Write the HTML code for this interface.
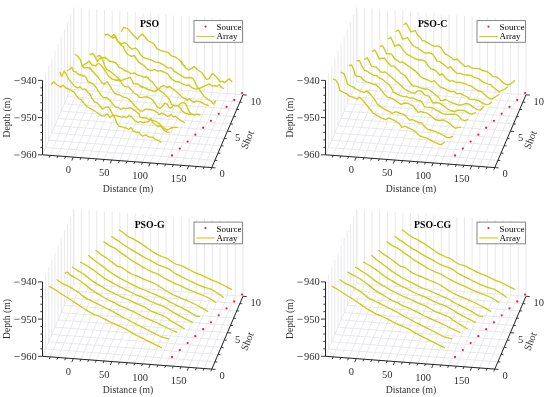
<!DOCTYPE html>
<html><head><meta charset="utf-8"><style>
html,body{margin:0;padding:0;background:#fff;width:550px;height:397px;overflow:hidden}
svg{display:block;will-change:transform}
text{font-family:"Liberation Serif",serif;fill:#303030}
.tl text{font-size:10.5px}
.al{font-size:9.7px}
.sh{font-size:10.3px}
.ti{font-size:9.8px;font-weight:bold;fill:#000}
.lg{font-size:9px;fill:#000}
</style></head><body>
<svg width="550" height="397" viewBox="0 0 550 397">
<rect width="550" height="397" fill="#fff"/>
<path d="M42.5 154.8L73.7 82L73.7 7.6M50.2 155.38L81.4 82.58L81.4 8.18M57.89 155.96L89.09 83.16L89.09 8.76M65.58 156.55L96.78 83.75L96.78 9.35M73.28 157.13L104.48 84.33L104.48 9.93M80.97 157.71L112.17 84.91L112.17 10.51M88.67 158.29L119.87 85.49L119.87 11.09M96.36 158.87L127.56 86.07L127.56 11.67M104.06 159.46L135.26 86.66L135.26 12.26M111.75 160.04L142.95 87.24L142.95 12.84M119.45 160.62L150.65 87.82L150.65 13.42M127.14 161.2L158.34 88.4L158.34 14M134.84 161.78L166.04 88.98L166.04 14.58M142.53 162.37L173.74 89.57L173.74 15.17M150.23 162.95L181.43 90.15L181.43 15.75M157.93 163.53L189.12 90.73L189.12 16.33M165.62 164.11L196.82 91.31L196.82 16.91M173.31 164.69L204.51 91.89L204.51 17.49M181.01 165.28L212.21 92.48L212.21 18.08M188.7 165.86L219.9 93.06L219.9 18.66M196.4 166.44L227.6 93.64L227.6 19.24M204.09 167.02L235.3 94.22L235.3 19.82M211.79 167.6L242.99 94.8L242.99 20.4M211.79 167.6L42.5 154.8L42.5 80.4M214.91 160.32L45.62 147.52L45.62 73.12M218.03 153.04L48.74 140.24L48.74 65.84M221.15 145.76L51.86 132.96L51.86 58.56M224.27 138.48L54.98 125.68L54.98 51.28M227.39 131.2L58.1 118.4L58.1 44M230.51 123.92L61.22 111.12L61.22 36.72M233.63 116.64L64.34 103.84L64.34 29.44M236.75 109.36L67.46 96.56L67.46 22.16M239.87 102.08L70.58 89.28L70.58 14.88M242.99 94.8L73.7 82L73.7 7.6" stroke="#e3e3e9" stroke-width="0.8" fill="none"/>
<path d="M42.5 80.4L42.5 154.8L211.79 167.6L242.99 94.8" stroke="#262626" stroke-width="1.0" fill="none"/>
<path d="M50.2 155.38l-0.95 2.21M57.89 155.96l-0.95 2.21M65.58 156.55l-0.95 2.21M73.28 157.13l-1.5 3.49M80.97 157.71l-0.95 2.21M88.67 158.29l-0.95 2.21M96.36 158.87l-0.95 2.21M104.06 159.46l-0.95 2.21M111.75 160.04l-1.5 3.49M119.45 160.62l-0.95 2.21M127.14 161.2l-0.95 2.21M134.84 161.78l-0.95 2.21M142.53 162.37l-0.95 2.21M150.23 162.95l-1.5 3.49M157.93 163.53l-0.95 2.21M165.62 164.11l-0.95 2.21M173.31 164.69l-0.95 2.21M181.01 165.28l-0.95 2.21M188.7 165.86l-1.5 3.49M196.4 166.44l-0.95 2.21M204.09 167.02l-0.95 2.21M211.79 167.6l-0.95 2.21M42.5 154.8l-4.5 0M42.5 147.36l-2.2 0M42.5 139.92l-2.2 0M42.5 132.48l-2.2 0M42.5 125.04l-2.2 0M42.5 117.6l-4.5 0M42.5 110.16l-2.2 0M42.5 102.72l-2.2 0M42.5 95.28l-2.2 0M42.5 87.84l-2.2 0M42.5 80.4l-4.5 0M211.79 167.6l3.79 0.29M214.91 160.32l2.39 0.18M218.03 153.04l2.39 0.18M221.15 145.76l2.39 0.18M224.27 138.48l2.39 0.18M227.39 131.2l3.79 0.29M230.51 123.92l2.39 0.18M233.63 116.64l2.39 0.18M236.75 109.36l2.39 0.18M239.87 102.08l2.39 0.18M242.99 94.8l3.79 0.29" stroke="#262626" stroke-width="0.9" fill="none"/>
<g class="tl"><text x="70.98" y="173.33" text-anchor="end">0</text><text x="109.45" y="176.24" text-anchor="end">50</text><text x="147.93" y="179.15" text-anchor="end">100</text><text x="186.4" y="182.06" text-anchor="end">150</text><text x="36.8" y="83.8" text-anchor="end">940</text><text x="36.8" y="121" text-anchor="end">950</text><text x="36.8" y="158.2" text-anchor="end">960</text><text x="219.39" y="177.4">0</text><text x="234.99" y="141">5</text><text x="250.59" y="104.6">10</text></g>
<path d="M14.3 80.6h5.3M14.3 117.8h5.3M14.3 155h5.3" stroke="#3a3a3a" stroke-width="0.7" fill="none"/>
<text class="al" x="128" y="191.6" text-anchor="middle">Distance (m)</text>
<text class="al" transform="translate(9.8 117.5) rotate(-90)" x="0" y="0" text-anchor="middle">Depth (m)</text>
<text class="al sh" transform="translate(250.5 141) rotate(-68)" x="0" y="0" text-anchor="middle">Shot</text>
<path d="M121.5 31.2L123.8 27.3L127.2 28.4L129.1 30L131.4 33.2L134.1 35.9L137.3 39.1L140 35.9L142.3 34.1L145 36.8L147.7 40.5L151.4 42.3L154.1 44.1L156.8 48.6L160.5 50.5L164.1 51.4L168.6 52.7L171.4 55.9L175 56.8L179.5 60L182.3 64.1L185.9 68.2L188.6 70L191.4 68.6L194.1 66.5L198.2 70.2L201.8 72.5L204.5 76.5L206.4 79.3L208.6 78.8L212.7 73.4L216.4 77L219.1 80.2L220.5 82L222.3 81.1L224.5 82.7L227.3 80.2L229.1 78.8L231.8 81.5M105 35L107.7 34.1L111.4 37.3L113.6 34.5L115.5 35.9L116.8 39.1L118.6 41.8L121.4 44.1L124.5 42.7L126.8 43.6L129.5 47.3L132.3 49.1L135.9 48.2L138.2 50.5L140.5 54.5L143.2 57.3L146.8 58.6L151.4 60L155 61.8L159.5 62.7L164.1 65.2L167.7 67.9L171.4 67.9L174.1 71.1L177.7 73.4L181.4 75.6L185 77.9L190 77.5L192.7 78.4L194.5 81.1L197.3 87L200 90.2L201.8 93.2L204.5 96.8L208.2 99.5L211.8 101.8L213.6 104.1L215.5 100.9M112.7 38.2L115 36.8L116.8 40L119.5 43.2L120.9 45L123.2 46.8L125 50.9L127.7 54.5L131.4 56.4L134.1 55.5L136.8 59.5L139.5 62.7L141.4 63.8L144.1 65.6L146.8 68.8L149.5 70.2L152.3 70.6L154.5 69.3L157.3 71.1L160.5 70.6L164.1 72L167.7 73.8L170 77L172.3 79.7L175.9 81.5L179.5 82L182.3 83.8L186.4 85.5L189.1 85L191.8 87.7L195.5 89.1L199.1 88.6L204.5 86.1L209.1 83.8L211.8 86.1L214.5 85.6L216.8 86.5L219.1 84.7L221.4 87.5L223.6 88.4M90 54.5L92.7 53.5L95 56.4L97.3 61.4L99.1 59.1L101.8 57.7L104.5 57.7L107.3 59.1L109.1 61.4L111.8 61.8L115.5 62.7L117.3 64.5L119.1 67.7L121.8 68.2L124.5 70.5L128.2 71.8L130.9 73.6L133.6 73.2L135 73.4L137.7 75.2L141.4 76.1L144.1 77.5L146.8 76.5L149.5 79.7L152.3 82L155 85.6L157.7 88.8L160.5 91.1L163.2 92.9L165.9 95.6L167.7 97L170 100.9L171.8 104.5L174.5 105.9L178.2 105.9L180.9 103.2L183.6 102.3L185.9 104.1L187.7 108.6L189.5 112.3L191.8 114.1L194.5 115L197.3 114.1L200 115M105 57.3L107.7 59.5L110.5 61.4L113.2 61.8L115.9 62.7L117.3 65M97.3 56.4L99.5 55.3L101.4 57.3L103.2 60.9L104.5 65L106.4 69.1L109.1 70.9L111.8 72.7L114.5 75L117.3 77.3L120 80L121.8 83.6L124.5 86.4L128.2 86.8L130.9 89.1L133.6 92.7L137.3 95L139.1 97.1L142.7 97.5L146.4 96.6L150 98L152.7 100.3L155.5 103.9L157.3 107.1L160 108.5L162.7 106.2L165 103L167.3 104.4L169.1 107.5L170.9 108L173.6 105.3L177.3 105.7L180 107.5L182.7 111.4L185.5 113.2L189.1 114.5L191.8 114.5M117.3 80L120.9 80.9L124.5 79.1L128.2 78.2L130 77.3L131.8 80L133.6 83.6L137.3 84.1L140 85.5L145.5 88L148.2 89.4L151.8 90.3L155.5 91.6L158.2 89.4L159.5 90M135 83.8L137.7 83.8L141.4 87L144.1 87.5L147.7 89.3L151.4 90.6L155 91.5L158.6 88.8L161.4 86.5L164.1 85.6L166.8 87.5L169.5 86.5L173.2 89.3L176.8 92L180 95L182.7 97.7L185.9 99.1L187.3 100.5L189.5 98.6L191.8 100.9L194.1 102.3L196.4 100.9L199.1 101.4L201.8 102.7L204.5 104.1L208.2 105.5M181.4 62L183.2 64.7L185 66.1M51.4 84.4L53.6 81.8L56.8 84.8L60.5 87.1L63.2 85.3L65.9 88L68.6 88.9L71.4 90.7L74.1 92.1L76.4 95.7L78.6 98.5L81.4 99.8L84.1 103.5L86.8 106.2L89.5 108L93.6 110.5L95 111.2L97.7 113L101.4 115.7L104.1 116.2L107.3 113.9L110 117.5L112.3 115.7L114.5 115.3L117.7 116.2L121.4 117.1L124.1 116.6L126.8 117.5L129.5 115.3L132.3 118L135 120.7L137.7 122.5L140 121.6L143.6 122.5L148.2 121.6L150.9 119.8L153.6 120.7L156.4 121.6L159.1 123.5L161.8 126.2L164.5 128.5L167.3 130.3L170 128.5L172.7 127.5L177.3 127.3M60 72.3L61.8 76.4L64.1 70.9L66.4 74.5L68.6 79.1L72.3 83.6L75 86.6L77.7 88L80 86.6L82.3 89.4L85 88.9L87.7 92.1L90.5 94.8L91.8 98.2L94.5 101.8L97.3 103.2L100 105.9L102.7 109.1L105.5 107.3L108.2 106.8L110 109.1L111.8 112.7L113.2 115.3L115 118L116.8 123.5L119.5 126.6L123.2 127.1L125.9 128L128.6 129.4L130.9 127.5L133.2 130.7L135.9 132.5L138.6 132.1L140.5 134.4L142.7 136.2L145.5 134.8L149.1 137.1L152.7 137.1L155.5 139.4L158.2 140.3L160.9 142.1M67.3 70.5L69.5 69.5L71.8 67.3L73.6 71.4L75.9 71.8L78.6 74.5L82.3 75.5L85 76.4L86.4 78L87.7 81.6L91.4 83L93.6 84.5L96.4 87.7L98.2 90.9L100.9 95L103.6 97.7L107.3 97.7L110 100.5L112.7 104.1L115.5 106.8L118.2 107.3L120.9 109.5L123.6 108.2L126.4 108.6L130 107.7L132.7 109.1L135.5 110.9L139.1 114.1L140 117.1L142.7 118L145.5 117.5L149.1 119.8L150.9 118.5L152.7 122.5L155.5 124.8L158.2 126.6L160 125.7L161.8 127.5L164.5 130.7L167.3 132.1L169.1 132.5M75.5 54.5L78.6 57.3L80.5 60L82.3 66.4L85 68.2L87.7 67.3L90.5 69.1L93.2 71.8L95.5 74.5L98.2 77.3L100 80L101.8 82.7L104.5 84.1L107.3 81.8L109.1 84.5L111.8 89.1L114.5 93.2L117.3 94.5L120 95L122.7 96.8L126.4 97.7L129.1 99.5L131.8 102.3L134.5 105.5L137.3 108.2L140 110.9L142.7 111.2L145.5 108.9L150 109.4L154.5 110.7L157.3 112.5L159.1 114.8L161.8 113L164.5 114.4L168.2 116.6L170.9 114.4L173.6 117.1L175.5 116.2L178.2 118.5L180.9 120.7L184.5 122.5M82.3 66.4L84.1 64.5L86.8 63.2L89.1 60.9L90.5 63.2L92.3 65L95.5 65.9L98.2 63.2L100.9 65L103.6 68.2L105.5 71.4L108.2 75.5L111.8 79.1L115.5 80L119.1 80.9M90 67.7L92.7 71.8M90 61.8L91.8 65" stroke="#d0cb14" stroke-width="1.35" fill="none" stroke-linejoin="round" stroke-linecap="round"/>
<g fill="#e8205a"><circle cx="172.05" cy="155.5" r="1.15"/><circle cx="179.83" cy="148.56" r="1.15"/><circle cx="187.61" cy="141.62" r="1.15"/><circle cx="195.39" cy="134.68" r="1.15"/><circle cx="203.17" cy="127.74" r="1.15"/><circle cx="210.95" cy="120.8" r="1.15"/><circle cx="218.73" cy="113.86" r="1.15"/><circle cx="226.51" cy="106.92" r="1.15"/><circle cx="234.29" cy="99.98" r="1.15"/><circle cx="242.07" cy="93.04" r="1.15"/></g>
<text class="ti" x="149.6" y="26.8" text-anchor="middle">PSO</text>
<rect x="194" y="20.6" width="48.4" height="21.7" fill="#fff" stroke="#7a7a7a" stroke-width="0.9"/>
<circle cx="205.5" cy="26.6" r="1.15" fill="#e8205a"/>
<path d="M196.3 36.5h18.5" stroke="#d0cb14" stroke-width="1.1"/>
<text class="lg" x="216.6" y="30.4">Source</text>
<text class="lg" x="216.6" y="39.2">Array</text>
<path d="M325.5 154.8L356.7 82L356.7 7.6M333.19 155.38L364.39 82.58L364.39 8.18M340.89 155.96L372.09 83.16L372.09 8.76M348.58 156.55L379.78 83.75L379.78 9.35M356.28 157.13L387.48 84.33L387.48 9.93M363.98 157.71L395.18 84.91L395.18 10.51M371.67 158.29L402.87 85.49L402.87 11.09M379.37 158.87L410.56 86.07L410.56 11.67M387.06 159.46L418.26 86.66L418.26 12.26M394.75 160.04L425.95 87.24L425.95 12.84M402.45 160.62L433.65 87.82L433.65 13.42M410.14 161.2L441.35 88.4L441.35 14M417.84 161.78L449.04 88.98L449.04 14.58M425.53 162.37L456.74 89.57L456.74 15.17M433.23 162.95L464.43 90.15L464.43 15.75M440.93 163.53L472.12 90.73L472.12 16.33M448.62 164.11L479.82 91.31L479.82 16.91M456.31 164.69L487.51 91.89L487.51 17.49M464.01 165.28L495.21 92.48L495.21 18.08M471.7 165.86L502.9 93.06L502.9 18.66M479.4 166.44L510.6 93.64L510.6 19.24M487.1 167.02L518.3 94.22L518.3 19.82M494.79 167.6L525.99 94.8L525.99 20.4M494.79 167.6L325.5 154.8L325.5 80.4M497.91 160.32L328.62 147.52L328.62 73.12M501.03 153.04L331.74 140.24L331.74 65.84M504.15 145.76L334.86 132.96L334.86 58.56M507.27 138.48L337.98 125.68L337.98 51.28M510.39 131.2L341.1 118.4L341.1 44M513.51 123.92L344.22 111.12L344.22 36.72M516.63 116.64L347.34 103.84L347.34 29.44M519.75 109.36L350.46 96.56L350.46 22.16M522.87 102.08L353.58 89.28L353.58 14.88M525.99 94.8L356.7 82L356.7 7.6" stroke="#e3e3e9" stroke-width="0.8" fill="none"/>
<path d="M325.5 80.4L325.5 154.8L494.79 167.6L525.99 94.8" stroke="#262626" stroke-width="1.0" fill="none"/>
<path d="M333.19 155.38l-0.95 2.21M340.89 155.96l-0.95 2.21M348.58 156.55l-0.95 2.21M356.28 157.13l-1.5 3.49M363.98 157.71l-0.95 2.21M371.67 158.29l-0.95 2.21M379.37 158.87l-0.95 2.21M387.06 159.46l-0.95 2.21M394.75 160.04l-1.5 3.49M402.45 160.62l-0.95 2.21M410.14 161.2l-0.95 2.21M417.84 161.78l-0.95 2.21M425.53 162.37l-0.95 2.21M433.23 162.95l-1.5 3.49M440.93 163.53l-0.95 2.21M448.62 164.11l-0.95 2.21M456.31 164.69l-0.95 2.21M464.01 165.28l-0.95 2.21M471.7 165.86l-1.5 3.49M479.4 166.44l-0.95 2.21M487.1 167.02l-0.95 2.21M494.79 167.6l-0.95 2.21M325.5 154.8l-4.5 0M325.5 147.36l-2.2 0M325.5 139.92l-2.2 0M325.5 132.48l-2.2 0M325.5 125.04l-2.2 0M325.5 117.6l-4.5 0M325.5 110.16l-2.2 0M325.5 102.72l-2.2 0M325.5 95.28l-2.2 0M325.5 87.84l-2.2 0M325.5 80.4l-4.5 0M494.79 167.6l3.79 0.29M497.91 160.32l2.39 0.18M501.03 153.04l2.39 0.18M504.15 145.76l2.39 0.18M507.27 138.48l2.39 0.18M510.39 131.2l3.79 0.29M513.51 123.92l2.39 0.18M516.63 116.64l2.39 0.18M519.75 109.36l2.39 0.18M522.87 102.08l2.39 0.18M525.99 94.8l3.79 0.29" stroke="#262626" stroke-width="0.9" fill="none"/>
<g class="tl"><text x="353.98" y="173.33" text-anchor="end">0</text><text x="392.45" y="176.24" text-anchor="end">50</text><text x="430.93" y="179.15" text-anchor="end">100</text><text x="469.4" y="182.06" text-anchor="end">150</text><text x="319.8" y="83.8" text-anchor="end">940</text><text x="319.8" y="121" text-anchor="end">950</text><text x="319.8" y="158.2" text-anchor="end">960</text><text x="502.39" y="177.4">0</text><text x="517.99" y="141">5</text><text x="533.59" y="104.6">10</text></g>
<path d="M297.3 80.6h5.3M297.3 117.8h5.3M297.3 155h5.3" stroke="#3a3a3a" stroke-width="0.7" fill="none"/>
<text class="al" x="411" y="191.6" text-anchor="middle">Distance (m)</text>
<text class="al" transform="translate(292.8 117.5) rotate(-90)" x="0" y="0" text-anchor="middle">Depth (m)</text>
<text class="al sh" transform="translate(533.5 141) rotate(-68)" x="0" y="0" text-anchor="middle">Shot</text>
<path d="M333.5 79.1L335.7 80L338 83.6L339.8 90.5L342.5 91.8L346.2 93.6L349.8 96.4L353.5 97.3L357.1 99.1L359.4 97.3L362.5 100L366.2 104.5L369.5 108.5L373 113L376.6 115.2L381.2 117.9L385.7 119.7L388.5 117.9L392.1 119.3L395.7 121.1L399.4 123.8L402.1 127.5L404.8 126.1L408.5 127.9L412.1 129.3L415.7 132L418.5 134.7L420.7 136.4L424.4 137.3L428 138.6L431.6 140.9L435.3 142.3L438.9 144.1L441.6 144.5L444.4 142.3M341.2 72.3L343.9 73.6L345.7 78.2L347.5 84.1L349.8 85.5L353.5 87.3L357.1 89.5L360.7 91.4L364.4 92.3L367.1 90.9L370.7 94.5L374.4 99.1L377.5 104.4L381.2 107.1L384.8 109.4L389.4 111.6L392.1 113.5L395.7 111.6L399.4 113L402.1 113.8L405.7 115.6L409.4 120.2L412.1 119.7L415.7 121.1L419.4 122.9L421.6 122.7L424.4 126.4L428 129.5L432.5 130.5L436.2 131.8L439.8 133.6L443.5 135.5L447.1 137.3L449.8 137.7L452.5 136.4M349.4 65.5L351.6 65L353.5 69.1L355.3 75.5L358 76.4L360.7 76.8L363.5 80L366.2 81.8L369.8 82.7L373.5 84.5L375.7 84.5L378.5 87.3L379.4 88L382.1 91.2L384.8 94.8L387.5 97.1L391.2 98L394.8 99.8L397.5 102.1L401.2 104.4L404.8 103L408.5 103.5L412.1 105.3L414.8 108L417.9 112.3L420.8 111.5L423.7 112.3L427.1 113.2L431.6 116.4L435.3 119.5L438.9 120.5L443.5 120L447.1 121.8L449.8 123.6L452.5 126.4L455.3 128.2L458 127.7L460.3 127.3M357.1 60.9L359.4 60.5L361.6 65.5L364.4 70.5L367.1 71.2L370.7 73.6L374.4 75.5L376.6 75.5L379.4 78.2L382.1 79.1L385.7 82.3L388.9 84.5L391.2 87.5L393 91.6L396.6 93.9L400.3 95.7L403.9 96.6L406.6 96.6L409.4 98L413 98L415.7 99.5L417.9 100.3L420.8 101L423 103.9L424.5 106.8L427.4 107.2L431 107.5L433.9 108.6L436.8 110.5L439.7 111.9L442.5 113.6L447.1 114.3L451.6 114.1L456.2 114.3L458.9 116.4L461.6 119.5L464.4 120.9L467.7 119.3M364.4 59.5L367.1 57.7L369.4 61.8L371.6 66.4L374.4 66.8L375.7 66.8L378.5 69.5L381.2 72.3L384.8 71.8L388.5 74.5L392.1 77.7L395.7 80.9L399.4 84.1L402.1 86.8L404.5 89L406.6 90.3L409.4 91.6L412.1 93L415 93L417.9 90.8L420.8 90.8L423 93L425.2 95.2L428.1 95.9L430.3 98.1L431.7 101L433.2 103.2L436.1 102.5L439 102.8L441.9 104.6L444.8 106.8L447.7 109L450.6 110.5L454.5 111.5L458.2 110.2L461.8 110.2L465.5 111.1L469.1 113.4L471.8 114.3L475.5 112.5M372.5 51.4L374.8 50L377.1 54.1L379.4 59.1L382.1 58.2L384.4 58.2L387.5 62.3L391.2 66.4L393.9 65.9L397.5 69.5L401.2 73.2L404.8 75.5L407.5 79.1L410.3 83.2L413 85.9L416.6 86.4L420.8 87.9L424.5 89L427.4 89L430.3 90.5L433.2 93L436.1 95.2L438.3 97L440.5 100.3L442.6 100.6L445.5 99.5L448.5 101L451.4 102.5L455.5 103.8L459.1 105.2L462.7 104.7L466.4 103.4L470 104.7L473.6 107.5L477.3 109.7L480 110.2L483.6 107M380.3 46.4L382.5 45.5L384.4 49.1L386.6 54.1L388.9 53.6L391.6 54.1L394.4 58.6L397.5 60.5L399.8 62.3L402.1 61.8L405.7 64.1L409.4 66.8L412.1 68.6L415.7 71.4L418.5 74.1L420.3 76.5L423.5 78.4L427.1 79.7L431.6 82L434.4 80.6L437.1 83.8L440.5 87.2L444.1 88.3L447 90.1L450.7 91.5L454.4 91.5L457.1 93.8L459.8 93.4L463.5 95.2L467.1 97L470 99.3L474.5 99.7L479.1 100.6L482.7 103.4L486.4 104.7L489.1 104.1L491.4 102.3M388.5 38.6L390.7 37.3L392.5 40.9L394.8 46.4L397.1 45L399.4 44.5L401.2 47.3L403.9 50.9L406.6 54.1L410.3 55.9L413.9 58.2L418.5 60L421.6 60L424.8 60.9L427.1 64.1L428 65.6L430.7 68.8L434.4 69.7L437.1 72L439.8 75.2L442.1 73.8L444.4 76.5L447.1 79.3L449.8 81.1L452.5 80.6L456.2 82.5L460.7 82.5L464.4 83.4L468 85.2L470 85.5L473.6 87.7L477.3 90.5L481.8 91.8L484.5 94.5L488.2 97.7L491.8 99.1L495.5 96.8L499.1 94.5M396.2 31.4L398.5 30L400.3 33.6L402.5 39.1L404.8 38.6L407.5 37.7L410.3 41.8L413 45.5L415.7 47.3L418.5 48.2L421.6 50.9L425.3 53.2L428.9 52.7L432.5 54.1L434.8 57.3L437.1 60.9L439.8 61.8L441.6 62.9L445.3 65.6L448 68.4L450.3 66.5L453.5 70.2L457.1 73.4L459.8 73.4L463.5 74.7L466.6 75L471.2 75.5L473.9 77.3L478.5 78.6L482.1 81.4L484.5 82.7L488.2 84.1L490.9 84.5L492.7 86.8L495.5 89.1L499.1 91.8L501.8 90.5L504.5 89.1L507.3 87.3M403.9 24.5L406.2 23.2L408.5 27.3L410.7 31.8L413 31.4L415.3 30.5L417.5 35L420.3 37.3L422.1 40.5L424.4 40.9L427.1 42.7L430.7 44.5L433.9 46.4L437.1 45.9L440.7 47.3L443 50.9L445.3 54.1L447.5 55L450.7 57.3L454.4 60L457.1 59.1L459.8 61.8L462.5 64.3L464.8 66.4L468.5 65.9L472.1 68.2L475.7 68.6L479.4 68.6L482.1 70.5L486.6 71.4L489.4 73.2L493 76.4L496.6 76.8L499.4 79.1L502.7 82.3L505.5 84.1L508.2 85L510.9 83.6L513.6 81.8L514.5 80.5" stroke="#d0cb14" stroke-width="1.35" fill="none" stroke-linejoin="round" stroke-linecap="round"/>
<g fill="#e8205a"><circle cx="455.05" cy="155.5" r="1.15"/><circle cx="462.83" cy="148.56" r="1.15"/><circle cx="470.61" cy="141.62" r="1.15"/><circle cx="478.39" cy="134.68" r="1.15"/><circle cx="486.17" cy="127.74" r="1.15"/><circle cx="493.95" cy="120.8" r="1.15"/><circle cx="501.73" cy="113.86" r="1.15"/><circle cx="509.51" cy="106.92" r="1.15"/><circle cx="517.29" cy="99.98" r="1.15"/><circle cx="525.07" cy="93.04" r="1.15"/></g>
<text class="ti" x="432.6" y="26.8" text-anchor="middle">PSO-C</text>
<rect x="477" y="20.6" width="48.4" height="21.7" fill="#fff" stroke="#7a7a7a" stroke-width="0.9"/>
<circle cx="488.5" cy="26.6" r="1.15" fill="#e8205a"/>
<path d="M479.3 36.5h18.5" stroke="#d0cb14" stroke-width="1.1"/>
<text class="lg" x="499.6" y="30.4">Source</text>
<text class="lg" x="499.6" y="39.2">Array</text>
<path d="M42.5 356.3L73.7 283.5L73.7 209.1M50.2 356.88L81.4 284.08L81.4 209.68M57.89 357.46L89.09 284.66L89.09 210.26M65.58 358.05L96.78 285.25L96.78 210.85M73.28 358.63L104.48 285.83L104.48 211.43M80.97 359.21L112.17 286.41L112.17 212.01M88.67 359.79L119.87 286.99L119.87 212.59M96.36 360.37L127.56 287.57L127.56 213.17M104.06 360.96L135.26 288.16L135.26 213.76M111.75 361.54L142.95 288.74L142.95 214.34M119.45 362.12L150.65 289.32L150.65 214.92M127.14 362.7L158.34 289.9L158.34 215.5M134.84 363.28L166.04 290.48L166.04 216.08M142.53 363.87L173.74 291.07L173.74 216.67M150.23 364.45L181.43 291.65L181.43 217.25M157.93 365.03L189.12 292.23L189.12 217.83M165.62 365.61L196.82 292.81L196.82 218.41M173.31 366.19L204.51 293.39L204.51 218.99M181.01 366.78L212.21 293.98L212.21 219.58M188.7 367.36L219.9 294.56L219.9 220.16M196.4 367.94L227.6 295.14L227.6 220.74M204.09 368.52L235.3 295.72L235.3 221.32M211.79 369.1L242.99 296.3L242.99 221.9M211.79 369.1L42.5 356.3L42.5 281.9M214.91 361.82L45.62 349.02L45.62 274.62M218.03 354.54L48.74 341.74L48.74 267.34M221.15 347.26L51.86 334.46L51.86 260.06M224.27 339.98L54.98 327.18L54.98 252.78M227.39 332.7L58.1 319.9L58.1 245.5M230.51 325.42L61.22 312.62L61.22 238.22M233.63 318.14L64.34 305.34L64.34 230.94M236.75 310.86L67.46 298.06L67.46 223.66M239.87 303.58L70.58 290.78L70.58 216.38M242.99 296.3L73.7 283.5L73.7 209.1" stroke="#e3e3e9" stroke-width="0.8" fill="none"/>
<path d="M42.5 281.9L42.5 356.3L211.79 369.1L242.99 296.3" stroke="#262626" stroke-width="1.0" fill="none"/>
<path d="M50.2 356.88l-0.95 2.21M57.89 357.46l-0.95 2.21M65.58 358.05l-0.95 2.21M73.28 358.63l-1.5 3.49M80.97 359.21l-0.95 2.21M88.67 359.79l-0.95 2.21M96.36 360.37l-0.95 2.21M104.06 360.96l-0.95 2.21M111.75 361.54l-1.5 3.49M119.45 362.12l-0.95 2.21M127.14 362.7l-0.95 2.21M134.84 363.28l-0.95 2.21M142.53 363.87l-0.95 2.21M150.23 364.45l-1.5 3.49M157.93 365.03l-0.95 2.21M165.62 365.61l-0.95 2.21M173.31 366.19l-0.95 2.21M181.01 366.78l-0.95 2.21M188.7 367.36l-1.5 3.49M196.4 367.94l-0.95 2.21M204.09 368.52l-0.95 2.21M211.79 369.1l-0.95 2.21M42.5 356.3l-4.5 0M42.5 348.86l-2.2 0M42.5 341.42l-2.2 0M42.5 333.98l-2.2 0M42.5 326.54l-2.2 0M42.5 319.1l-4.5 0M42.5 311.66l-2.2 0M42.5 304.22l-2.2 0M42.5 296.78l-2.2 0M42.5 289.34l-2.2 0M42.5 281.9l-4.5 0M211.79 369.1l3.79 0.29M214.91 361.82l2.39 0.18M218.03 354.54l2.39 0.18M221.15 347.26l2.39 0.18M224.27 339.98l2.39 0.18M227.39 332.7l3.79 0.29M230.51 325.42l2.39 0.18M233.63 318.14l2.39 0.18M236.75 310.86l2.39 0.18M239.87 303.58l2.39 0.18M242.99 296.3l3.79 0.29" stroke="#262626" stroke-width="0.9" fill="none"/>
<g class="tl"><text x="70.98" y="374.83" text-anchor="end">0</text><text x="109.45" y="377.74" text-anchor="end">50</text><text x="147.93" y="380.65" text-anchor="end">100</text><text x="186.4" y="383.56" text-anchor="end">150</text><text x="36.8" y="285.3" text-anchor="end">940</text><text x="36.8" y="322.5" text-anchor="end">950</text><text x="36.8" y="359.7" text-anchor="end">960</text><text x="219.39" y="378.9">0</text><text x="234.99" y="342.5">5</text><text x="250.59" y="306.1">10</text></g>
<path d="M14.3 282.1h5.3M14.3 319.3h5.3M14.3 356.5h5.3" stroke="#3a3a3a" stroke-width="0.7" fill="none"/>
<text class="al" x="128" y="393.1" text-anchor="middle">Distance (m)</text>
<text class="al" transform="translate(9.8 319) rotate(-90)" x="0" y="0" text-anchor="middle">Depth (m)</text>
<text class="al sh" transform="translate(250.5 342.5) rotate(-68)" x="0" y="0" text-anchor="middle">Shot</text>
<path d="M49.3 286.5C50.4 287.12 52.98 288.4 55.9 290.2C58.82 292 63.17 294.93 66.8 297.3C70.43 299.67 74.67 302.4 77.7 304.4C80.73 306.4 82.57 307.77 85 309.3C87.43 310.83 89.88 312.4 92.3 313.6C94.72 314.8 97.08 315.4 99.5 316.5C101.92 317.6 104.37 318.98 106.8 320.2C109.23 321.42 111.07 322.4 114.1 323.8C117.13 325.2 121.67 326.88 125 328.6C128.33 330.32 131.07 332.43 134.1 334.1C137.13 335.77 140.17 337.08 143.2 338.6C146.23 340.12 149.27 341.68 152.3 343.2C155.33 344.72 159.88 346.95 161.4 347.7M57 279.8C58.08 280.53 61.87 283.28 63.5 284.2C65.13 285.12 64.43 284.03 66.8 285.3C69.17 286.57 74.67 289.75 77.7 291.8C80.73 293.85 82.57 296.02 85 297.6C87.43 299.18 89.88 300.08 92.3 301.3C94.72 302.52 97.08 303.7 99.5 304.9C101.92 306.1 104.37 307.28 106.8 308.5C109.23 309.72 111.67 310.87 114.1 312.2C116.53 313.53 118.98 315.17 121.4 316.5C123.82 317.83 126.48 319.08 128.6 320.2C130.72 321.32 131.67 321.95 134.1 323.2C136.53 324.45 140.17 326.18 143.2 327.7C146.23 329.22 149.27 330.78 152.3 332.3C155.33 333.82 158.68 335.75 161.4 336.8C164.12 337.85 167.4 338.3 168.6 338.6M65.2 273.3C65.57 273.12 66.58 271.93 67.4 272.2C68.22 272.47 68.38 273.72 70.1 274.9C71.82 276.08 75.22 277.7 77.7 279.3C80.18 280.9 82.57 282.65 85 284.5C87.43 286.35 89.88 288.7 92.3 290.4C94.72 292.1 97.08 293.25 99.5 294.7C101.92 296.15 104.37 297.77 106.8 299.1C109.23 300.43 111.67 301.48 114.1 302.7C116.53 303.92 118.98 305.3 121.4 306.4C123.82 307.5 126.18 308.22 128.6 309.3C131.02 310.38 133.47 311.67 135.9 312.9C138.33 314.13 140.77 315.48 143.2 316.7C145.63 317.92 148.08 319.13 150.5 320.2C152.92 321.27 155.88 322.3 157.7 323.1C159.52 323.9 159.27 323.93 161.4 325C163.53 326.07 167.93 328.28 170.5 329.5C173.07 330.72 175.75 331.83 176.8 332.3M72.6 267.2C73.33 267.68 75.3 269.02 77 270.1C78.7 271.18 81.47 272.87 82.8 273.7C84.13 274.53 83.42 273.9 85 275.1C86.58 276.3 89.88 279.2 92.3 280.9C94.72 282.6 97.08 283.85 99.5 285.3C101.92 286.75 104.37 288.27 106.8 289.6C109.23 290.93 111.67 292.08 114.1 293.3C116.53 294.52 118.98 295.82 121.4 296.9C123.82 297.98 126.18 298.72 128.6 299.8C131.02 300.88 133.47 302.3 135.9 303.4C138.33 304.5 140.77 305.18 143.2 306.4C145.63 307.62 148.08 309.5 150.5 310.7C152.92 311.9 155.28 312.63 157.7 313.6C160.12 314.57 162.87 315.35 165 316.5C167.13 317.65 168.08 318.93 170.5 320.5C172.92 322.07 177.23 324.55 179.5 325.9C181.77 327.25 183.33 328.15 184.1 328.6M80.6 262.1C81.45 262.58 83.88 263.92 85.7 265C87.52 266.08 89.55 267.27 91.5 268.6C93.45 269.93 95.45 271.53 97.4 273C99.35 274.47 101.63 276.32 103.2 277.4C104.77 278.48 104.98 278.43 106.8 279.5C108.62 280.57 111.67 282.47 114.1 283.8C116.53 285.13 118.98 286.28 121.4 287.5C123.82 288.72 126.18 289.9 128.6 291.1C131.02 292.3 133.47 293.62 135.9 294.7C138.33 295.78 140.77 296.5 143.2 297.6C145.63 298.7 148.08 300.2 150.5 301.3C152.92 302.4 155.28 303.2 157.7 304.2C160.12 305.2 162.87 306.25 165 307.3C167.13 308.35 168.08 309.07 170.5 310.5C172.92 311.93 176.78 314.4 179.5 315.9C182.22 317.4 184.67 318.43 186.8 319.5C188.93 320.57 191.38 321.83 192.3 322.3M88.6 255.5C89.33 256.12 91.3 257.87 93 259.2C94.7 260.53 96.87 262.05 98.8 263.5C100.73 264.95 102.65 266.43 104.6 267.9C106.55 269.37 108.55 270.95 110.5 272.3C112.45 273.65 114.48 274.88 116.3 276C118.12 277.12 119.35 277.88 121.4 279C123.45 280.12 126.18 281.48 128.6 282.7C131.02 283.92 133.47 285.17 135.9 286.3C138.33 287.43 140.77 288.47 143.2 289.5C145.63 290.53 148.08 291.47 150.5 292.5C152.92 293.53 155.28 294.62 157.7 295.7C160.12 296.78 162.62 297.78 165 299C167.38 300.22 169.5 301.67 172 303C174.5 304.33 177.23 305.6 180 307C182.77 308.4 185.95 309.92 188.6 311.4C191.25 312.88 194.08 315.05 195.9 315.9C197.72 316.75 198.9 316.4 199.5 316.5M95.9 250.4C96.63 251.02 98.6 252.88 100.3 254.1C102 255.32 104.17 256.37 106.1 257.7C108.03 259.03 109.97 260.65 111.9 262.1C113.83 263.55 116.13 265.55 117.7 266.4C119.27 267.25 119.65 266.33 121.3 267.2C122.95 268.07 125.72 270.38 127.6 271.6C129.48 272.82 130.73 273.63 132.6 274.5C134.47 275.37 136.55 275.88 138.8 276.8C141.05 277.72 143.67 278.97 146.1 280C148.53 281.03 151.03 281.83 153.4 283C155.77 284.17 157.98 285.58 160.3 287C162.62 288.42 164.93 290.12 167.3 291.5C169.67 292.88 172.08 294.17 174.5 295.3C176.92 296.43 179.37 297.27 181.8 298.3C184.23 299.33 186.67 300.38 189.1 301.5C191.53 302.62 194.35 303.97 196.4 305C198.45 306.03 199.52 306.63 201.4 307.7C203.28 308.77 206.65 310.78 207.7 311.4M103.9 241.7C104.75 242.32 107.15 244.3 109 245.4C110.85 246.5 113.17 247.18 115 248.3C116.83 249.42 118.12 250.73 120 252.1C121.88 253.47 124.2 255.03 126.3 256.5C128.4 257.97 130.48 259.53 132.6 260.9C134.72 262.27 136.88 263.43 139 264.7C141.12 265.97 143.2 267.35 145.3 268.5C147.4 269.65 149.5 270.65 151.6 271.6C153.7 272.55 156.5 273.57 157.9 274.2C159.3 274.83 158.43 274.48 160 275.4C161.57 276.32 164.88 278.37 167.3 279.7C169.72 281.03 172.08 282.3 174.5 283.4C176.92 284.5 179.37 285.22 181.8 286.3C184.23 287.38 186.67 288.82 189.1 289.9C191.53 290.98 193.98 291.87 196.4 292.8C198.82 293.73 201.25 294.47 203.6 295.5C205.95 296.53 208.5 297.87 210.5 299C212.5 300.13 214.75 301.75 215.6 302.3M111.9 236.6C112.42 236.98 113.65 238 115 238.9C116.35 239.8 118.32 240.85 120 242C121.68 243.15 123.2 244.53 125.1 245.8C127 247.07 129.3 248.33 131.4 249.6C133.5 250.87 135.6 252.15 137.7 253.4C139.8 254.65 141.9 255.95 144 257.1C146.1 258.25 148.2 259.13 150.3 260.3C152.4 261.47 154.5 263.05 156.6 264.1C158.7 265.15 160.8 265.77 162.9 266.6C165 267.43 167.27 268.03 169.2 269.1C171.13 270.17 172.4 271.72 174.5 273C176.6 274.28 179.37 275.55 181.8 276.8C184.23 278.05 186.67 279.28 189.1 280.5C191.53 281.72 193.98 283.02 196.4 284.1C198.82 285.18 201.18 286.15 203.6 287C206.02 287.85 208.47 288.12 210.9 289.2C213.33 290.28 216.13 292.17 218.2 293.5C220.27 294.83 222.45 296.58 223.3 297.2M119.4 230C120.13 230.53 122.22 232.03 123.8 233.2C125.38 234.37 127 235.85 128.9 237C130.8 238.15 133.1 238.95 135.2 240.1C137.3 241.25 139.4 242.53 141.5 243.9C143.6 245.27 145.5 246.72 147.8 248.3C150.1 249.88 153 252.03 155.3 253.4C157.6 254.77 159.5 255.57 161.6 256.5C163.7 257.43 165.75 257.83 167.9 259C170.05 260.17 172.18 262.35 174.5 263.5C176.82 264.65 179.37 264.9 181.8 265.9C184.23 266.9 186.67 268.28 189.1 269.5C191.53 270.72 193.98 272.1 196.4 273.2C198.82 274.3 201.18 275.02 203.6 276.1C206.02 277.18 208.47 278.62 210.9 279.7C213.33 280.78 216.02 281.63 218.2 282.6C220.38 283.57 221.82 284.4 224 285.5C226.18 286.6 230.08 288.58 231.3 289.2" stroke="#d0cb14" stroke-width="1.35" fill="none" stroke-linejoin="round" stroke-linecap="round"/>
<g fill="#e8205a"><circle cx="172.05" cy="357" r="1.15"/><circle cx="179.83" cy="350.06" r="1.15"/><circle cx="187.61" cy="343.12" r="1.15"/><circle cx="195.39" cy="336.18" r="1.15"/><circle cx="203.17" cy="329.24" r="1.15"/><circle cx="210.95" cy="322.3" r="1.15"/><circle cx="218.73" cy="315.36" r="1.15"/><circle cx="226.51" cy="308.42" r="1.15"/><circle cx="234.29" cy="301.48" r="1.15"/><circle cx="242.07" cy="294.54" r="1.15"/></g>
<text class="ti" x="149.6" y="228.3" text-anchor="middle">PSO-G</text>
<rect x="194" y="222.1" width="48.4" height="21.7" fill="#fff" stroke="#7a7a7a" stroke-width="0.9"/>
<circle cx="205.5" cy="228.1" r="1.15" fill="#e8205a"/>
<path d="M196.3 238h18.5" stroke="#d0cb14" stroke-width="1.1"/>
<text class="lg" x="216.6" y="231.9">Source</text>
<text class="lg" x="216.6" y="240.7">Array</text>
<path d="M325.5 356.3L356.7 283.5L356.7 209.1M333.19 356.88L364.39 284.08L364.39 209.68M340.89 357.46L372.09 284.66L372.09 210.26M348.58 358.05L379.78 285.25L379.78 210.85M356.28 358.63L387.48 285.83L387.48 211.43M363.98 359.21L395.18 286.41L395.18 212.01M371.67 359.79L402.87 286.99L402.87 212.59M379.37 360.37L410.56 287.57L410.56 213.17M387.06 360.96L418.26 288.16L418.26 213.76M394.75 361.54L425.95 288.74L425.95 214.34M402.45 362.12L433.65 289.32L433.65 214.92M410.14 362.7L441.35 289.9L441.35 215.5M417.84 363.28L449.04 290.48L449.04 216.08M425.53 363.87L456.74 291.07L456.74 216.67M433.23 364.45L464.43 291.65L464.43 217.25M440.93 365.03L472.12 292.23L472.12 217.83M448.62 365.61L479.82 292.81L479.82 218.41M456.31 366.19L487.51 293.39L487.51 218.99M464.01 366.78L495.21 293.98L495.21 219.58M471.7 367.36L502.9 294.56L502.9 220.16M479.4 367.94L510.6 295.14L510.6 220.74M487.1 368.52L518.3 295.72L518.3 221.32M494.79 369.1L525.99 296.3L525.99 221.9M494.79 369.1L325.5 356.3L325.5 281.9M497.91 361.82L328.62 349.02L328.62 274.62M501.03 354.54L331.74 341.74L331.74 267.34M504.15 347.26L334.86 334.46L334.86 260.06M507.27 339.98L337.98 327.18L337.98 252.78M510.39 332.7L341.1 319.9L341.1 245.5M513.51 325.42L344.22 312.62L344.22 238.22M516.63 318.14L347.34 305.34L347.34 230.94M519.75 310.86L350.46 298.06L350.46 223.66M522.87 303.58L353.58 290.78L353.58 216.38M525.99 296.3L356.7 283.5L356.7 209.1" stroke="#e3e3e9" stroke-width="0.8" fill="none"/>
<path d="M325.5 281.9L325.5 356.3L494.79 369.1L525.99 296.3" stroke="#262626" stroke-width="1.0" fill="none"/>
<path d="M333.19 356.88l-0.95 2.21M340.89 357.46l-0.95 2.21M348.58 358.05l-0.95 2.21M356.28 358.63l-1.5 3.49M363.98 359.21l-0.95 2.21M371.67 359.79l-0.95 2.21M379.37 360.37l-0.95 2.21M387.06 360.96l-0.95 2.21M394.75 361.54l-1.5 3.49M402.45 362.12l-0.95 2.21M410.14 362.7l-0.95 2.21M417.84 363.28l-0.95 2.21M425.53 363.87l-0.95 2.21M433.23 364.45l-1.5 3.49M440.93 365.03l-0.95 2.21M448.62 365.61l-0.95 2.21M456.31 366.19l-0.95 2.21M464.01 366.78l-0.95 2.21M471.7 367.36l-1.5 3.49M479.4 367.94l-0.95 2.21M487.1 368.52l-0.95 2.21M494.79 369.1l-0.95 2.21M325.5 356.3l-4.5 0M325.5 348.86l-2.2 0M325.5 341.42l-2.2 0M325.5 333.98l-2.2 0M325.5 326.54l-2.2 0M325.5 319.1l-4.5 0M325.5 311.66l-2.2 0M325.5 304.22l-2.2 0M325.5 296.78l-2.2 0M325.5 289.34l-2.2 0M325.5 281.9l-4.5 0M494.79 369.1l3.79 0.29M497.91 361.82l2.39 0.18M501.03 354.54l2.39 0.18M504.15 347.26l2.39 0.18M507.27 339.98l2.39 0.18M510.39 332.7l3.79 0.29M513.51 325.42l2.39 0.18M516.63 318.14l2.39 0.18M519.75 310.86l2.39 0.18M522.87 303.58l2.39 0.18M525.99 296.3l3.79 0.29" stroke="#262626" stroke-width="0.9" fill="none"/>
<g class="tl"><text x="353.98" y="374.83" text-anchor="end">0</text><text x="392.45" y="377.74" text-anchor="end">50</text><text x="430.93" y="380.65" text-anchor="end">100</text><text x="469.4" y="383.56" text-anchor="end">150</text><text x="319.8" y="285.3" text-anchor="end">940</text><text x="319.8" y="322.5" text-anchor="end">950</text><text x="319.8" y="359.7" text-anchor="end">960</text><text x="502.39" y="378.9">0</text><text x="517.99" y="342.5">5</text><text x="533.59" y="306.1">10</text></g>
<path d="M297.3 282.1h5.3M297.3 319.3h5.3M297.3 356.5h5.3" stroke="#3a3a3a" stroke-width="0.7" fill="none"/>
<text class="al" x="411" y="393.1" text-anchor="middle">Distance (m)</text>
<text class="al" transform="translate(292.8 319) rotate(-90)" x="0" y="0" text-anchor="middle">Depth (m)</text>
<text class="al sh" transform="translate(533.5 342.5) rotate(-68)" x="0" y="0" text-anchor="middle">Shot</text>
<path d="M332.3 286.5C333.4 287.12 335.98 288.4 338.9 290.2C341.82 292 346.17 294.93 349.8 297.3C353.43 299.67 357.67 302.4 360.7 304.4C363.73 306.4 365.57 307.77 368 309.3C370.43 310.83 372.88 312.4 375.3 313.6C377.72 314.8 380.08 315.4 382.5 316.5C384.92 317.6 387.37 318.98 389.8 320.2C392.23 321.42 394.07 322.4 397.1 323.8C400.13 325.2 404.67 326.88 408 328.6C411.33 330.32 414.07 332.43 417.1 334.1C420.13 335.77 423.17 337.08 426.2 338.6C429.23 340.12 432.27 341.68 435.3 343.2C438.33 344.72 442.88 346.95 444.4 347.7M340 279.8C341.08 280.53 344.87 283.28 346.5 284.2C348.13 285.12 347.43 284.03 349.8 285.3C352.17 286.57 357.67 289.75 360.7 291.8C363.73 293.85 365.57 296.02 368 297.6C370.43 299.18 372.88 300.08 375.3 301.3C377.72 302.52 380.08 303.7 382.5 304.9C384.92 306.1 387.37 307.28 389.8 308.5C392.23 309.72 394.67 310.87 397.1 312.2C399.53 313.53 401.98 315.17 404.4 316.5C406.82 317.83 409.48 319.08 411.6 320.2C413.72 321.32 414.67 321.95 417.1 323.2C419.53 324.45 423.17 326.18 426.2 327.7C429.23 329.22 432.27 330.78 435.3 332.3C438.33 333.82 441.68 335.75 444.4 336.8C447.12 337.85 450.4 338.3 451.6 338.6M348 272.3C348.85 272.77 350.98 273.93 353.1 275.1C355.22 276.27 358.22 277.73 360.7 279.3C363.18 280.87 365.57 282.65 368 284.5C370.43 286.35 372.88 288.7 375.3 290.4C377.72 292.1 380.08 293.25 382.5 294.7C384.92 296.15 387.37 297.77 389.8 299.1C392.23 300.43 394.67 301.48 397.1 302.7C399.53 303.92 401.98 305.3 404.4 306.4C406.82 307.5 409.18 308.22 411.6 309.3C414.02 310.38 416.47 311.67 418.9 312.9C421.33 314.13 423.77 315.48 426.2 316.7C428.63 317.92 431.08 319.13 433.5 320.2C435.92 321.27 438.88 322.3 440.7 323.1C442.52 323.9 442.27 323.93 444.4 325C446.53 326.07 450.93 328.28 453.5 329.5C456.07 330.72 458.75 331.83 459.8 332.3M355.6 267.2C356.33 267.68 358.3 269.02 360 270.1C361.7 271.18 364.47 272.87 365.8 273.7C367.13 274.53 366.42 273.9 368 275.1C369.58 276.3 372.88 279.2 375.3 280.9C377.72 282.6 380.08 283.85 382.5 285.3C384.92 286.75 387.37 288.27 389.8 289.6C392.23 290.93 394.67 292.08 397.1 293.3C399.53 294.52 401.98 295.82 404.4 296.9C406.82 297.98 409.18 298.72 411.6 299.8C414.02 300.88 416.47 302.3 418.9 303.4C421.33 304.5 423.77 305.18 426.2 306.4C428.63 307.62 431.08 309.5 433.5 310.7C435.92 311.9 438.28 312.63 440.7 313.6C443.12 314.57 445.87 315.35 448 316.5C450.13 317.65 451.08 318.93 453.5 320.5C455.92 322.07 460.23 324.55 462.5 325.9C464.77 327.25 466.33 328.15 467.1 328.6M363.6 262.1C364.45 262.58 366.88 263.92 368.7 265C370.52 266.08 372.55 267.27 374.5 268.6C376.45 269.93 378.45 271.53 380.4 273C382.35 274.47 384.63 276.32 386.2 277.4C387.77 278.48 387.98 278.43 389.8 279.5C391.62 280.57 394.67 282.47 397.1 283.8C399.53 285.13 401.98 286.28 404.4 287.5C406.82 288.72 409.18 289.9 411.6 291.1C414.02 292.3 416.47 293.62 418.9 294.7C421.33 295.78 423.77 296.5 426.2 297.6C428.63 298.7 431.08 300.2 433.5 301.3C435.92 302.4 438.28 303.2 440.7 304.2C443.12 305.2 445.87 306.25 448 307.3C450.13 308.35 451.08 309.07 453.5 310.5C455.92 311.93 459.78 314.4 462.5 315.9C465.22 317.4 467.67 318.43 469.8 319.5C471.93 320.57 474.38 321.83 475.3 322.3M371.6 255.5C372.33 256.12 374.3 257.87 376 259.2C377.7 260.53 379.87 262.05 381.8 263.5C383.73 264.95 385.65 266.43 387.6 267.9C389.55 269.37 391.55 270.95 393.5 272.3C395.45 273.65 397.48 274.88 399.3 276C401.12 277.12 402.35 277.88 404.4 279C406.45 280.12 409.18 281.48 411.6 282.7C414.02 283.92 416.47 285.17 418.9 286.3C421.33 287.43 423.77 288.47 426.2 289.5C428.63 290.53 431.08 291.47 433.5 292.5C435.92 293.53 438.28 294.62 440.7 295.7C443.12 296.78 445.62 297.78 448 299C450.38 300.22 452.5 301.67 455 303C457.5 304.33 460.23 305.6 463 307C465.77 308.4 468.95 309.92 471.6 311.4C474.25 312.88 477.08 315.05 478.9 315.9C480.72 316.75 481.9 316.4 482.5 316.5M378.9 250.4C379.63 251.02 381.6 252.88 383.3 254.1C385 255.32 387.17 256.37 389.1 257.7C391.03 259.03 392.97 260.65 394.9 262.1C396.83 263.55 399.13 265.55 400.7 266.4C402.27 267.25 402.65 266.33 404.3 267.2C405.95 268.07 408.72 270.38 410.6 271.6C412.48 272.82 413.73 273.63 415.6 274.5C417.47 275.37 419.55 275.88 421.8 276.8C424.05 277.72 426.67 278.97 429.1 280C431.53 281.03 434.03 281.83 436.4 283C438.77 284.17 440.98 285.58 443.3 287C445.62 288.42 447.93 290.12 450.3 291.5C452.67 292.88 455.08 294.17 457.5 295.3C459.92 296.43 462.37 297.27 464.8 298.3C467.23 299.33 469.67 300.38 472.1 301.5C474.53 302.62 477.35 303.97 479.4 305C481.45 306.03 482.52 306.63 484.4 307.7C486.28 308.77 489.65 310.78 490.7 311.4M386.9 241.7C387.75 242.32 390.15 244.3 392 245.4C393.85 246.5 396.17 247.18 398 248.3C399.83 249.42 401.12 250.73 403 252.1C404.88 253.47 407.2 255.03 409.3 256.5C411.4 257.97 413.48 259.53 415.6 260.9C417.72 262.27 419.88 263.43 422 264.7C424.12 265.97 426.2 267.35 428.3 268.5C430.4 269.65 432.5 270.65 434.6 271.6C436.7 272.55 439.5 273.57 440.9 274.2C442.3 274.83 441.43 274.48 443 275.4C444.57 276.32 447.88 278.37 450.3 279.7C452.72 281.03 455.08 282.3 457.5 283.4C459.92 284.5 462.37 285.22 464.8 286.3C467.23 287.38 469.67 288.82 472.1 289.9C474.53 290.98 476.98 291.87 479.4 292.8C481.82 293.73 484.25 294.47 486.6 295.5C488.95 296.53 491.5 297.87 493.5 299C495.5 300.13 497.75 301.75 498.6 302.3M394.9 236.6C395.42 236.98 396.65 238 398 238.9C399.35 239.8 401.32 240.85 403 242C404.68 243.15 406.2 244.53 408.1 245.8C410 247.07 412.3 248.33 414.4 249.6C416.5 250.87 418.6 252.15 420.7 253.4C422.8 254.65 424.9 255.95 427 257.1C429.1 258.25 431.2 259.13 433.3 260.3C435.4 261.47 437.5 263.05 439.6 264.1C441.7 265.15 443.8 265.77 445.9 266.6C448 267.43 450.27 268.03 452.2 269.1C454.13 270.17 455.4 271.72 457.5 273C459.6 274.28 462.37 275.55 464.8 276.8C467.23 278.05 469.67 279.28 472.1 280.5C474.53 281.72 476.98 283.02 479.4 284.1C481.82 285.18 484.18 286.15 486.6 287C489.02 287.85 491.47 288.12 493.9 289.2C496.33 290.28 499.13 292.17 501.2 293.5C503.27 294.83 505.45 296.58 506.3 297.2M402.4 230C403.13 230.53 405.22 232.03 406.8 233.2C408.38 234.37 410 235.85 411.9 237C413.8 238.15 416.1 238.95 418.2 240.1C420.3 241.25 422.4 242.53 424.5 243.9C426.6 245.27 428.5 246.72 430.8 248.3C433.1 249.88 436 252.03 438.3 253.4C440.6 254.77 442.5 255.57 444.6 256.5C446.7 257.43 448.75 257.83 450.9 259C453.05 260.17 455.18 262.35 457.5 263.5C459.82 264.65 462.37 264.9 464.8 265.9C467.23 266.9 469.67 268.28 472.1 269.5C474.53 270.72 476.98 272.1 479.4 273.2C481.82 274.3 484.18 275.02 486.6 276.1C489.02 277.18 491.47 278.62 493.9 279.7C496.33 280.78 499.02 281.63 501.2 282.6C503.38 283.57 504.82 284.4 507 285.5C509.18 286.6 513.08 288.58 514.3 289.2" stroke="#d0cb14" stroke-width="1.35" fill="none" stroke-linejoin="round" stroke-linecap="round"/>
<g fill="#e8205a"><circle cx="455.05" cy="357" r="1.15"/><circle cx="462.83" cy="350.06" r="1.15"/><circle cx="470.61" cy="343.12" r="1.15"/><circle cx="478.39" cy="336.18" r="1.15"/><circle cx="486.17" cy="329.24" r="1.15"/><circle cx="493.95" cy="322.3" r="1.15"/><circle cx="501.73" cy="315.36" r="1.15"/><circle cx="509.51" cy="308.42" r="1.15"/><circle cx="517.29" cy="301.48" r="1.15"/><circle cx="525.07" cy="294.54" r="1.15"/></g>
<text class="ti" x="432.6" y="228.3" text-anchor="middle">PSO-CG</text>
<rect x="477" y="222.1" width="48.4" height="21.7" fill="#fff" stroke="#7a7a7a" stroke-width="0.9"/>
<circle cx="488.5" cy="228.1" r="1.15" fill="#e8205a"/>
<path d="M479.3 238h18.5" stroke="#d0cb14" stroke-width="1.1"/>
<text class="lg" x="499.6" y="231.9">Source</text>
<text class="lg" x="499.6" y="240.7">Array</text>
</svg>
</body></html>
